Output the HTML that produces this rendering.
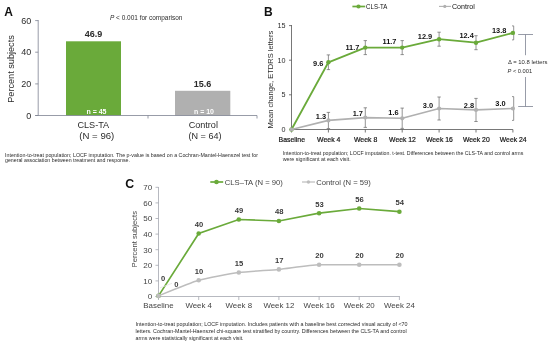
<!DOCTYPE html>
<html lang="en"><head><meta charset="utf-8"><title>Figure</title>
<style>
html,body{margin:0;padding:0;background:#fff;}
body{width:550px;height:346px;overflow:hidden;}
svg{display:block;font-family:"Liberation Sans",sans-serif;filter:blur(0.4px);}
</style></head><body>
<svg width="550" height="346" viewBox="0 0 550 346">
<rect width="550" height="346" fill="#fff"/>
<g id="panelA">
<text x="4.3" y="15.9" font-size="12" text-anchor="start" fill="#111" font-weight="bold">A</text>
<text x="110" y="19.5" font-size="6.5" text-anchor="start" fill="#2b2b2b" textLength="72.5" lengthAdjust="spacingAndGlyphs"><tspan font-style="italic">P</tspan> &lt; 0.001 for comparison</text>
<rect x="66" y="41.3" width="55" height="74.2" fill="#6aaa3a"/>
<rect x="175" y="90.8" width="55.3" height="24.7" fill="#b0b0b0"/>
<line x1="38.2" y1="20" x2="38.2" y2="115.5" stroke="#7e8392" stroke-width="0.8"/>
<line x1="35.2" y1="115.5" x2="257" y2="115.5" stroke="#7e8392" stroke-width="0.8"/>
<line x1="35.2" y1="115.5" x2="38.2" y2="115.5" stroke="#7e8392" stroke-width="0.8"/>
<text x="31.2" y="118.5" font-size="9" text-anchor="end" fill="#2b2b2b">0</text>
<line x1="35.2" y1="83.9" x2="38.2" y2="83.9" stroke="#7e8392" stroke-width="0.8"/>
<text x="31.2" y="86.9" font-size="9" text-anchor="end" fill="#2b2b2b">20</text>
<line x1="35.2" y1="52.2" x2="38.2" y2="52.2" stroke="#7e8392" stroke-width="0.8"/>
<text x="31.2" y="55.2" font-size="9" text-anchor="end" fill="#2b2b2b">40</text>
<line x1="35.2" y1="20.6" x2="38.2" y2="20.6" stroke="#7e8392" stroke-width="0.8"/>
<text x="31.2" y="23.6" font-size="9" text-anchor="end" fill="#2b2b2b">60</text>
<line x1="148" y1="115.5" x2="148" y2="118.5" stroke="#7e8392" stroke-width="0.8"/>
<line x1="257" y1="115.5" x2="257" y2="118.5" stroke="#7e8392" stroke-width="0.8"/>
<text x="13.6" y="69" font-size="9" text-anchor="middle" fill="#2b2b2b" textLength="67.5" lengthAdjust="spacingAndGlyphs" transform="rotate(-90 13.6 69)">Percent subjects</text>
<text x="93.5" y="36.7" font-size="9" text-anchor="middle" fill="#2b2b2b" font-weight="bold">46.9</text>
<text x="202.5" y="86.7" font-size="9" text-anchor="middle" fill="#2b2b2b" font-weight="bold">15.6</text>
<text x="96.5" y="113.9" font-size="7" text-anchor="middle" fill="#fff" font-weight="bold">n = 45</text>
<text x="204" y="113.9" font-size="7" text-anchor="middle" fill="#fff" font-weight="bold">n = 10</text>
<text x="93.3" y="128.1" font-size="9.1" text-anchor="middle" fill="#2b2b2b">CLS-TA</text>
<text x="96.8" y="138.8" font-size="9" text-anchor="middle" fill="#2b2b2b" textLength="35" lengthAdjust="spacingAndGlyphs">(N = 96)</text>
<text x="203.3" y="128.2" font-size="9.1" text-anchor="middle" fill="#2b2b2b">Control</text>
<text x="205" y="138.8" font-size="9" text-anchor="middle" fill="#2b2b2b" textLength="33" lengthAdjust="spacingAndGlyphs">(N = 64)</text>
<text x="5" y="156.5" font-size="5.2" text-anchor="start" fill="#2b2b2b" textLength="253" lengthAdjust="spacingAndGlyphs">Intention-to-treat population; LOCF imputation. The p-value is based on a Cochran-Mantel-Haenszel test for</text>
<text x="5" y="162.2" font-size="5.2" text-anchor="start" fill="#2b2b2b" textLength="125" lengthAdjust="spacingAndGlyphs">general association between treatment and response.</text>
</g>
<g id="panelB">
<text x="264" y="15.9" font-size="12" text-anchor="start" fill="#111" font-weight="bold">B</text>
<line x1="291.5" y1="25" x2="291.5" y2="129.5" stroke="#555" stroke-width="0.8"/>
<line x1="289.0" y1="129.5" x2="512.9" y2="129.5" stroke="#555" stroke-width="0.8"/>
<line x1="289.0" y1="129.5" x2="291.5" y2="129.5" stroke="#555" stroke-width="0.8"/>
<text x="285.6" y="132.1" font-size="7.2" text-anchor="end" fill="#2b2b2b">0</text>
<line x1="289.0" y1="94.8" x2="291.5" y2="94.8" stroke="#555" stroke-width="0.8"/>
<text x="285.6" y="97.4" font-size="7.2" text-anchor="end" fill="#2b2b2b">5</text>
<line x1="289.0" y1="60.2" x2="291.5" y2="60.2" stroke="#555" stroke-width="0.8"/>
<text x="285.6" y="62.8" font-size="7.2" text-anchor="end" fill="#2b2b2b">10</text>
<line x1="289.0" y1="25.6" x2="291.5" y2="25.6" stroke="#555" stroke-width="0.8"/>
<text x="285.6" y="28.2" font-size="7.2" text-anchor="end" fill="#2b2b2b">15</text>
<line x1="291.5" y1="129.5" x2="291.5" y2="132.5" stroke="#555" stroke-width="0.8"/>
<line x1="328.4" y1="129.5" x2="328.4" y2="132.5" stroke="#555" stroke-width="0.8"/>
<line x1="365.3" y1="129.5" x2="365.3" y2="132.5" stroke="#555" stroke-width="0.8"/>
<line x1="402.2" y1="129.5" x2="402.2" y2="132.5" stroke="#555" stroke-width="0.8"/>
<line x1="439.1" y1="129.5" x2="439.1" y2="132.5" stroke="#555" stroke-width="0.8"/>
<line x1="476.0" y1="129.5" x2="476.0" y2="132.5" stroke="#555" stroke-width="0.8"/>
<line x1="512.9" y1="129.5" x2="512.9" y2="132.5" stroke="#555" stroke-width="0.8"/>
<text x="273.2" y="79.6" font-size="7.7" text-anchor="middle" fill="#2b2b2b" textLength="97.6" lengthAdjust="spacingAndGlyphs" transform="rotate(-90 273.2 79.6)">Mean change, ETDRS letters</text>
<line x1="328.4" y1="54.9" x2="328.4" y2="69.6" stroke="#666" stroke-width="0.7"/>
<line x1="326.7" y1="54.9" x2="330.1" y2="54.9" stroke="#666" stroke-width="0.7"/>
<line x1="326.7" y1="69.6" x2="330.1" y2="69.6" stroke="#666" stroke-width="0.7"/>
<line x1="328.4" y1="112.4" x2="328.4" y2="128.5" stroke="#666" stroke-width="0.7"/>
<line x1="326.7" y1="112.4" x2="330.1" y2="112.4" stroke="#666" stroke-width="0.7"/>
<line x1="326.7" y1="128.5" x2="330.1" y2="128.5" stroke="#666" stroke-width="0.7"/>
<line x1="365.3" y1="40.6" x2="365.3" y2="54.6" stroke="#666" stroke-width="0.7"/>
<line x1="363.6" y1="40.6" x2="367.0" y2="40.6" stroke="#666" stroke-width="0.7"/>
<line x1="363.6" y1="54.6" x2="367.0" y2="54.6" stroke="#666" stroke-width="0.7"/>
<line x1="365.3" y1="107.8" x2="365.3" y2="127.4" stroke="#666" stroke-width="0.7"/>
<line x1="363.6" y1="107.8" x2="367.0" y2="107.8" stroke="#666" stroke-width="0.7"/>
<line x1="363.6" y1="127.4" x2="367.0" y2="127.4" stroke="#666" stroke-width="0.7"/>
<line x1="402.2" y1="40.6" x2="402.2" y2="54.6" stroke="#666" stroke-width="0.7"/>
<line x1="400.5" y1="40.6" x2="403.9" y2="40.6" stroke="#666" stroke-width="0.7"/>
<line x1="400.5" y1="54.6" x2="403.9" y2="54.6" stroke="#666" stroke-width="0.7"/>
<line x1="402.2" y1="108.1" x2="402.2" y2="128.4" stroke="#666" stroke-width="0.7"/>
<line x1="400.5" y1="108.1" x2="403.9" y2="108.1" stroke="#666" stroke-width="0.7"/>
<line x1="400.5" y1="128.4" x2="403.9" y2="128.4" stroke="#666" stroke-width="0.7"/>
<line x1="439.1" y1="32.2" x2="439.1" y2="46.2" stroke="#666" stroke-width="0.7"/>
<line x1="437.4" y1="32.2" x2="440.8" y2="32.2" stroke="#666" stroke-width="0.7"/>
<line x1="437.4" y1="46.2" x2="440.8" y2="46.2" stroke="#666" stroke-width="0.7"/>
<line x1="439.1" y1="97.0" x2="439.1" y2="120.0" stroke="#666" stroke-width="0.7"/>
<line x1="437.4" y1="97.0" x2="440.8" y2="97.0" stroke="#666" stroke-width="0.7"/>
<line x1="437.4" y1="120.0" x2="440.8" y2="120.0" stroke="#666" stroke-width="0.7"/>
<line x1="476.0" y1="35.7" x2="476.0" y2="49.7" stroke="#666" stroke-width="0.7"/>
<line x1="474.3" y1="35.7" x2="477.7" y2="35.7" stroke="#666" stroke-width="0.7"/>
<line x1="474.3" y1="49.7" x2="477.7" y2="49.7" stroke="#666" stroke-width="0.7"/>
<line x1="476.0" y1="98.4" x2="476.0" y2="121.5" stroke="#666" stroke-width="0.7"/>
<line x1="474.3" y1="98.4" x2="477.7" y2="98.4" stroke="#666" stroke-width="0.7"/>
<line x1="474.3" y1="121.5" x2="477.7" y2="121.5" stroke="#666" stroke-width="0.7"/>
<line x1="513.7" y1="25.9" x2="513.7" y2="39.9" stroke="#666" stroke-width="0.7"/>
<line x1="512.0" y1="25.9" x2="513.7" y2="25.9" stroke="#666" stroke-width="0.7"/>
<line x1="512.0" y1="39.9" x2="513.7" y2="39.9" stroke="#666" stroke-width="0.7"/>
<line x1="513.7" y1="96.6" x2="513.7" y2="120.4" stroke="#666" stroke-width="0.7"/>
<line x1="512.0" y1="96.6" x2="513.7" y2="96.6" stroke="#666" stroke-width="0.7"/>
<line x1="512.0" y1="120.4" x2="513.7" y2="120.4" stroke="#666" stroke-width="0.7"/>
<polyline points="291.5,129.5 328.4,62.3 365.3,47.6 402.2,47.6 439.1,39.2 476.0,42.7 512.9,32.9" fill="none" stroke="#6aaa3a" stroke-width="1.8" stroke-linejoin="round"/>
<circle cx="291.5" cy="129.5" r="2.2" fill="#6aaa3a"/>
<circle cx="328.4" cy="62.3" r="2.2" fill="#6aaa3a"/>
<circle cx="365.3" cy="47.6" r="2.2" fill="#6aaa3a"/>
<circle cx="402.2" cy="47.6" r="2.2" fill="#6aaa3a"/>
<circle cx="439.1" cy="39.2" r="2.2" fill="#6aaa3a"/>
<circle cx="476.0" cy="42.7" r="2.2" fill="#6aaa3a"/>
<circle cx="512.9" cy="32.9" r="2.2" fill="#6aaa3a"/>
<polyline points="291.5,129.5 328.4,120.4 365.3,117.6 402.2,118.3 439.1,108.5 476.0,109.9 512.9,108.5" fill="none" stroke="#b0b0b0" stroke-width="1.6" stroke-linejoin="round"/>
<circle cx="291.5" cy="129.5" r="2.1" fill="#b0b0b0"/>
<circle cx="328.4" cy="120.4" r="2.1" fill="#b0b0b0"/>
<circle cx="365.3" cy="117.6" r="2.1" fill="#b0b0b0"/>
<circle cx="402.2" cy="118.3" r="2.1" fill="#b0b0b0"/>
<circle cx="439.1" cy="108.5" r="2.1" fill="#b0b0b0"/>
<circle cx="476.0" cy="109.9" r="2.1" fill="#b0b0b0"/>
<circle cx="512.9" cy="108.5" r="2.1" fill="#b0b0b0"/>
<text x="318.2" y="65.9" font-size="7.4" text-anchor="middle" fill="#111" font-weight="bold">9.6</text>
<text x="352.4" y="49.8" font-size="7.4" text-anchor="middle" fill="#111" font-weight="bold">11.7</text>
<text x="389.5" y="43.7" font-size="7.4" text-anchor="middle" fill="#111" font-weight="bold">11.7</text>
<text x="425" y="39.2" font-size="7.4" text-anchor="middle" fill="#111" font-weight="bold">12.9</text>
<text x="466.6" y="37.7" font-size="7.4" text-anchor="middle" fill="#111" font-weight="bold">12.4</text>
<text x="499.2" y="33.1" font-size="7.4" text-anchor="middle" fill="#111" font-weight="bold">13.8</text>
<text x="321" y="118.7" font-size="7.4" text-anchor="middle" fill="#111" font-weight="bold">1.3</text>
<text x="357.8" y="116.4" font-size="7.4" text-anchor="middle" fill="#111" font-weight="bold">1.7</text>
<text x="393.5" y="115" font-size="7.4" text-anchor="middle" fill="#111" font-weight="bold">1.6</text>
<text x="428" y="107.6" font-size="7.4" text-anchor="middle" fill="#111" font-weight="bold">3.0</text>
<text x="469" y="107.6" font-size="7.4" text-anchor="middle" fill="#111" font-weight="bold">2.8</text>
<text x="500.5" y="106.2" font-size="7.4" text-anchor="middle" fill="#111" font-weight="bold">3.0</text>
<text x="291.8" y="142" font-size="7.4" text-anchor="middle" fill="#111" textLength="26.400000000000002" lengthAdjust="spacingAndGlyphs" stroke="#111" stroke-width="0.2">Baseline</text>
<text x="328.7" y="142" font-size="7.4" text-anchor="middle" fill="#111" textLength="23.3" lengthAdjust="spacingAndGlyphs" stroke="#111" stroke-width="0.2">Week 4</text>
<text x="365.6" y="142" font-size="7.4" text-anchor="middle" fill="#111" textLength="23.3" lengthAdjust="spacingAndGlyphs" stroke="#111" stroke-width="0.2">Week 8</text>
<text x="402.5" y="142" font-size="7.4" text-anchor="middle" fill="#111" textLength="26.8" lengthAdjust="spacingAndGlyphs" stroke="#111" stroke-width="0.2">Week 12</text>
<text x="439.4" y="142" font-size="7.4" text-anchor="middle" fill="#111" textLength="26.8" lengthAdjust="spacingAndGlyphs" stroke="#111" stroke-width="0.2">Week 16</text>
<text x="476.3" y="142" font-size="7.4" text-anchor="middle" fill="#111" textLength="26.8" lengthAdjust="spacingAndGlyphs" stroke="#111" stroke-width="0.2">Week 20</text>
<text x="513.2" y="142" font-size="7.4" text-anchor="middle" fill="#111" textLength="26.8" lengthAdjust="spacingAndGlyphs" stroke="#111" stroke-width="0.2">Week 24</text>
<line x1="352.4" y1="6.5" x2="365.2" y2="6.5" stroke="#6aaa3a" stroke-width="1.7"/>
<circle cx="358.5" cy="6.5" r="2.1" fill="#6aaa3a"/>
<text x="366.1" y="9.1" font-size="7.8" text-anchor="start" fill="#111" textLength="21.2" lengthAdjust="spacingAndGlyphs">CLS-TA</text>
<line x1="439" y1="6.4" x2="451" y2="6.4" stroke="#b0b0b0" stroke-width="1.1"/>
<circle cx="444.8" cy="6.4" r="1.6" fill="#b0b0b0"/>
<text x="451.9" y="9.1" font-size="7.8" text-anchor="start" fill="#111" textLength="22.9" lengthAdjust="spacingAndGlyphs">Control</text>
<line x1="525.5" y1="34.5" x2="525.5" y2="55.2" stroke="#7e8392" stroke-width="0.8"/>
<line x1="525.5" y1="77" x2="525.5" y2="106.5" stroke="#7e8392" stroke-width="0.8"/>
<line x1="518.2" y1="34.5" x2="533" y2="34.5" stroke="#7e8392" stroke-width="0.8"/>
<line x1="518.2" y1="106.5" x2="533" y2="106.5" stroke="#7e8392" stroke-width="0.8"/>
<text x="507.9" y="63.9" font-size="5.5" text-anchor="start" fill="#2b2b2b" textLength="39.6" lengthAdjust="spacingAndGlyphs">&#916; = 10.8 letters</text>
<text x="507.5" y="72.5" font-size="5.4" text-anchor="start" fill="#2b2b2b" textLength="24.6" lengthAdjust="spacingAndGlyphs"><tspan font-style="italic">P</tspan> &lt; 0.001</text>
<text x="282.7" y="155" font-size="5.2" text-anchor="start" fill="#2b2b2b" textLength="240.6" lengthAdjust="spacingAndGlyphs">Intention-to-treat population; LOCF imputation. t-test. Differences between the CLS-TA and control arms</text>
<text x="282.7" y="160.7" font-size="5.2" text-anchor="start" fill="#2b2b2b" textLength="68" lengthAdjust="spacingAndGlyphs">were significant at each visit.</text>
</g>
<g id="panelC">
<text x="125.2" y="187.6" font-size="12.3" text-anchor="start" fill="#111" font-weight="bold">C</text>
<line x1="158.5" y1="187" x2="158.5" y2="296.5" stroke="#a4a7b0" stroke-width="0.8"/>
<line x1="155.5" y1="296.5" x2="399.9" y2="296.5" stroke="#a4a7b0" stroke-width="0.8"/>
<line x1="155.5" y1="296.5" x2="158.5" y2="296.5" stroke="#a4a7b0" stroke-width="0.8"/>
<text x="152.2" y="299.3" font-size="8" text-anchor="end" fill="#444">0</text>
<line x1="155.5" y1="280.9" x2="158.5" y2="280.9" stroke="#a4a7b0" stroke-width="0.8"/>
<text x="152.2" y="283.7" font-size="8" text-anchor="end" fill="#444">10</text>
<line x1="155.5" y1="265.3" x2="158.5" y2="265.3" stroke="#a4a7b0" stroke-width="0.8"/>
<text x="152.2" y="268.1" font-size="8" text-anchor="end" fill="#444">20</text>
<line x1="155.5" y1="249.7" x2="158.5" y2="249.7" stroke="#a4a7b0" stroke-width="0.8"/>
<text x="152.2" y="252.5" font-size="8" text-anchor="end" fill="#444">30</text>
<line x1="155.5" y1="234.1" x2="158.5" y2="234.1" stroke="#a4a7b0" stroke-width="0.8"/>
<text x="152.2" y="236.9" font-size="8" text-anchor="end" fill="#444">40</text>
<line x1="155.5" y1="218.5" x2="158.5" y2="218.5" stroke="#a4a7b0" stroke-width="0.8"/>
<text x="152.2" y="221.3" font-size="8" text-anchor="end" fill="#444">50</text>
<line x1="155.5" y1="202.9" x2="158.5" y2="202.9" stroke="#a4a7b0" stroke-width="0.8"/>
<text x="152.2" y="205.7" font-size="8" text-anchor="end" fill="#444">60</text>
<line x1="155.5" y1="187.3" x2="158.5" y2="187.3" stroke="#a4a7b0" stroke-width="0.8"/>
<text x="152.2" y="190.1" font-size="8" text-anchor="end" fill="#444">70</text>
<line x1="158.5" y1="296.5" x2="158.5" y2="300.0" stroke="#a4a7b0" stroke-width="0.8"/>
<line x1="198.7" y1="296.5" x2="198.7" y2="300.0" stroke="#a4a7b0" stroke-width="0.8"/>
<line x1="238.8" y1="296.5" x2="238.8" y2="300.0" stroke="#a4a7b0" stroke-width="0.8"/>
<line x1="278.9" y1="296.5" x2="278.9" y2="300.0" stroke="#a4a7b0" stroke-width="0.8"/>
<line x1="319.1" y1="296.5" x2="319.1" y2="300.0" stroke="#a4a7b0" stroke-width="0.8"/>
<line x1="359.2" y1="296.5" x2="359.2" y2="300.0" stroke="#a4a7b0" stroke-width="0.8"/>
<line x1="399.4" y1="296.5" x2="399.4" y2="300.0" stroke="#a4a7b0" stroke-width="0.8"/>
<text x="136.9" y="239.2" font-size="7.8" text-anchor="middle" fill="#444" textLength="56.5" lengthAdjust="spacingAndGlyphs" transform="rotate(-90 136.9 239.2)">Percent subjects</text>
<path d="M158.5,295.9 C158.5,295.9 198.7,233.5 198.7,233.5 C198.7,233.5 238.8,219.5 238.8,219.5 C238.8,219.5 278.9,221.0 278.9,221.0 C278.9,221.0 319.1,213.2 319.1,213.2 C319.1,213.2 359.2,208.5 359.2,208.5 C359.2,208.5 399.4,211.7 399.4,211.7" fill="none" stroke="#6aaa3a" stroke-width="1.7"/>
<circle cx="158.5" cy="295.9" r="2.3" fill="#6aaa3a"/>
<circle cx="198.7" cy="233.5" r="2.3" fill="#6aaa3a"/>
<circle cx="238.8" cy="219.5" r="2.3" fill="#6aaa3a"/>
<circle cx="278.9" cy="221.0" r="2.3" fill="#6aaa3a"/>
<circle cx="319.1" cy="213.2" r="2.3" fill="#6aaa3a"/>
<circle cx="359.2" cy="208.5" r="2.3" fill="#6aaa3a"/>
<circle cx="399.4" cy="211.7" r="2.3" fill="#6aaa3a"/>
<line x1="160" y1="287.8" x2="172" y2="283.3" stroke="#e4e4e4" stroke-width="0.8"/>
<path d="M158.5,295.9 C162.5,294.3 190.6,282.6 198.7,280.3 C206.7,278.0 230.8,273.6 238.8,272.5 C246.8,271.4 270.9,270.2 278.9,269.4 C287.0,268.6 311.1,264.7 319.1,264.7 C327.1,264.7 351.2,264.7 359.2,264.7 C367.3,264.7 395.4,264.7 399.4,264.7" fill="none" stroke="#bdbdbd" stroke-width="1.5"/>
<circle cx="158.5" cy="295.9" r="2.3" fill="#bdbdbd"/>
<circle cx="198.7" cy="280.3" r="2.3" fill="#bdbdbd"/>
<circle cx="238.8" cy="272.5" r="2.3" fill="#bdbdbd"/>
<circle cx="278.9" cy="269.4" r="2.3" fill="#bdbdbd"/>
<circle cx="319.1" cy="264.7" r="2.3" fill="#bdbdbd"/>
<circle cx="359.2" cy="264.7" r="2.3" fill="#bdbdbd"/>
<circle cx="399.4" cy="264.7" r="2.3" fill="#bdbdbd"/>
<text x="199.0" y="226.9" font-size="7.6" text-anchor="middle" fill="#3a3a3a" font-weight="bold">40</text>
<text x="239.1" y="212.9" font-size="7.6" text-anchor="middle" fill="#3a3a3a" font-weight="bold">49</text>
<text x="279.2" y="214.4" font-size="7.6" text-anchor="middle" fill="#3a3a3a" font-weight="bold">48</text>
<text x="319.4" y="206.6" font-size="7.6" text-anchor="middle" fill="#3a3a3a" font-weight="bold">53</text>
<text x="359.6" y="201.9" font-size="7.6" text-anchor="middle" fill="#3a3a3a" font-weight="bold">56</text>
<text x="399.7" y="205.1" font-size="7.6" text-anchor="middle" fill="#3a3a3a" font-weight="bold">54</text>
<text x="199.0" y="273.7" font-size="7.6" text-anchor="middle" fill="#3a3a3a" font-weight="bold">10</text>
<text x="239.1" y="265.9" font-size="7.6" text-anchor="middle" fill="#3a3a3a" font-weight="bold">15</text>
<text x="279.2" y="262.8" font-size="7.6" text-anchor="middle" fill="#3a3a3a" font-weight="bold">17</text>
<text x="319.4" y="258.1" font-size="7.6" text-anchor="middle" fill="#3a3a3a" font-weight="bold">20</text>
<text x="359.6" y="258.1" font-size="7.6" text-anchor="middle" fill="#3a3a3a" font-weight="bold">20</text>
<text x="399.7" y="258.1" font-size="7.6" text-anchor="middle" fill="#3a3a3a" font-weight="bold">20</text>
<text x="163.1" y="281.2" font-size="7.6" text-anchor="middle" fill="#3a3a3a" font-weight="bold">0</text>
<text x="176.3" y="287" font-size="7.6" text-anchor="middle" fill="#444" font-weight="bold">0</text>
<text x="158.5" y="308.4" font-size="7.9" text-anchor="middle" fill="#444">Baseline</text>
<text x="198.7" y="308.4" font-size="7.9" text-anchor="middle" fill="#444">Week 4</text>
<text x="238.8" y="308.4" font-size="7.9" text-anchor="middle" fill="#444">Week 8</text>
<text x="278.9" y="308.4" font-size="7.9" text-anchor="middle" fill="#444">Week 12</text>
<text x="319.1" y="308.4" font-size="7.9" text-anchor="middle" fill="#444">Week 16</text>
<text x="359.2" y="308.4" font-size="7.9" text-anchor="middle" fill="#444">Week 20</text>
<text x="399.4" y="308.4" font-size="7.9" text-anchor="middle" fill="#444">Week 24</text>
<line x1="210.3" y1="182" x2="223.2" y2="182" stroke="#6aaa3a" stroke-width="1.7"/>
<circle cx="216.5" cy="182" r="2.3" fill="#6aaa3a"/>
<text x="224.7" y="185" font-size="7.7" text-anchor="start" fill="#444" textLength="58.2" lengthAdjust="spacingAndGlyphs">CLS&#8211;TA (N = 90)</text>
<line x1="302" y1="182" x2="315" y2="182" stroke="#bdbdbd" stroke-width="1.2"/>
<circle cx="308.4" cy="182" r="1.7" fill="#bdbdbd"/>
<text x="316.2" y="185" font-size="7.7" text-anchor="start" fill="#444" textLength="54.6" lengthAdjust="spacingAndGlyphs">Control (N = 59)</text>
<text x="135.6" y="326.4" font-size="5.2" text-anchor="start" fill="#2b2b2b" textLength="272" lengthAdjust="spacingAndGlyphs">Intention-to-treat population; LOCF imputation. Includes patients with a baseline best corrected visual acuity of &lt;70</text>
<text x="135.6" y="333.3" font-size="5.2" text-anchor="start" fill="#2b2b2b" textLength="271" lengthAdjust="spacingAndGlyphs">letters. Cochran-Mantel-Haenszel chi-square test stratified by country. Differences between the CLS-TA and control</text>
<text x="135.6" y="340.1" font-size="5.2" text-anchor="start" fill="#2b2b2b" textLength="108" lengthAdjust="spacingAndGlyphs">arms were statistically significant at each visit.</text>
</g>
</svg>
</body></html>
